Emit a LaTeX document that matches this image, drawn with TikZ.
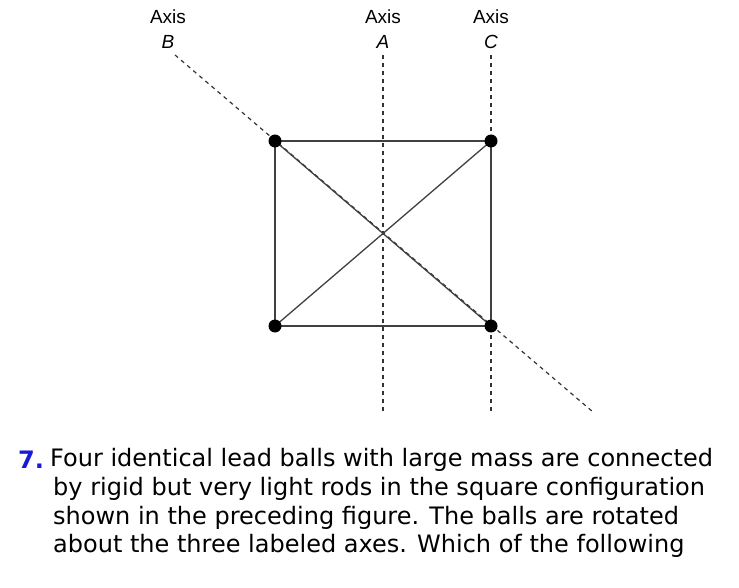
\documentclass[tikz,border=0pt]{standalone}
\usepackage{fontspec}
\setmainfont{DejaVu Sans}
\newfontfamily\axfont{Liberation Sans}
\begin{document}
\begin{tikzpicture}[x=1pt,y=-1pt,
  rod/.style={draw=black!75,line width=1.3pt},
  axisline/.style={draw=black!80,line width=1.2pt,dash pattern=on 4pt off 4pt},
  ball/.style={circle,fill=black,inner sep=0pt,minimum size=13pt},
  axlab/.style={font=\axfont\fontsize{19}{20}\selectfont,align=center,inner sep=0pt},
  body/.style={font=\fontsize{24}{29}\selectfont,anchor=west,inner sep=0pt}]
\useasboundingbox (0,0) rectangle (739,588);
\coordinate (aTop) at (383,55); \coordinate (aBot) at (383,412);
\coordinate (cTop) at (491,55); \coordinate (cBot) at (491,412);
\coordinate (bTop) at (175,55); \coordinate (bBot) at (593,412);
\draw[axisline] (aTop) -- (aBot);
\draw[axisline] (cTop) -- (cBot);
\draw[axisline] (bTop) -- (bBot);
\coordinate (tl) at (275,141);
\coordinate (tr) at (491,141);
\coordinate (bl) at (275,326);
\coordinate (br) at (491,326);
\draw[rod] (tl) -- (tr) -- (br) -- (bl) -- cycle;
\draw[rod] (tl) -- (br);
\draw[rod] (tr) -- (bl);
\node[ball] (btl) at (tl) {};
\node[ball] (btr) at (tr) {};
\node[ball] (bbl) at (bl) {};
\node[ball] (bbr) at (br) {};
\node[axlab] (lb) at (168,17) {Axis}; \node[axlab] (lb2) at (168,42) {\itshape B};
\node[axlab] (la) at (383,17) {Axis}; \node[axlab] (la2) at (383,42) {\itshape A};
\node[axlab] (lc) at (491,17) {Axis}; \node[axlab] (lc2) at (491,42) {\itshape C};
\node[body] (n) at (18,460) {\textcolor[rgb]{0.1,0.1,0.85}{\bfseries 7.}};
\node[body] (t1) at (50,460) {Four identical lead balls with large mass are connected};
\node[body] (t2) at (53,489) {by rigid but very light rods in the square configuration};
\node[body] (t3) at (53,518) {shown in the preceding figure. The balls are rotated};
\node[body] (t4) at (53,546) {about the three labeled axes. Which of the following};
\end{tikzpicture}
\end{document}
